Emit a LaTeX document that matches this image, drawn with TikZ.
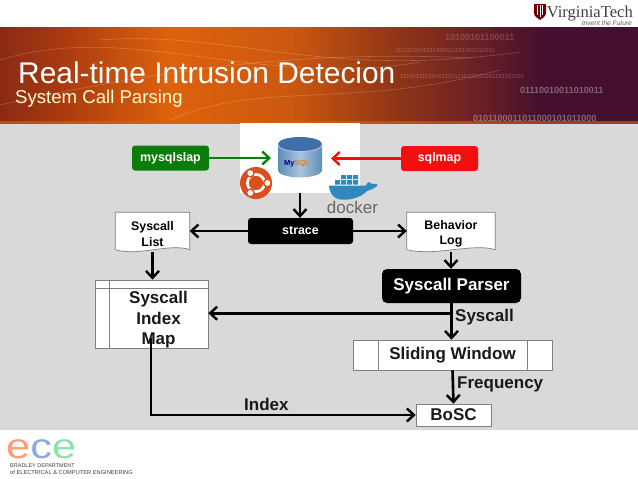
\documentclass[tikz,border=0pt]{standalone}
\usepackage{fontspec}
\setmainfont{Liberation Sans}
\newfontfamily\vtserif{Liberation Serif}
\usetikzlibrary{arrows.meta,calc}
\definecolor{slidegrey}{HTML}{D9D9D9}
\definecolor{mygreen}{HTML}{0A7D0A}
\definecolor{myred}{HTML}{F40F0F}
\definecolor{linegrey}{HTML}{7F7F7F}
\definecolor{whaleblue}{HTML}{2F88BE}
\definecolor{ubuorange}{HTML}{D9501E}
\definecolor{dbtopc}{HTML}{3F6FA8}
\definecolor{dbside}{HTML}{5F8DB8}
\definecolor{dblight}{HTML}{A9C4DC}
\definecolor{b0}{HTML}{8A2A14}
\definecolor{b1}{HTML}{A83A10}
\definecolor{b2}{HTML}{DE620C}
\definecolor{b3}{HTML}{CC5810}
\definecolor{b4}{HTML}{8E3416}
\definecolor{b5}{HTML}{6A1F25}
\definecolor{b6}{HTML}{45102E}
\pgfdeclarehorizontalshading{bannerH}{100bp}{
 color(0bp)=(b0); color(25bp)=(b0); color(29.7bp)=(b1); color(38.3bp)=(b2);
 color(47.7bp)=(b3); color(56.3bp)=(b4); color(62.6bp)=(b5); color(67.3bp)=(b6); color(100bp)=(b6)}
\tikzset{
 conn/.style={draw=black,line width=2.6pt,-{Straight Barb[length=7pt,width=13pt,line width=2.4pt]}},
 whitebox/.style={draw=linegrey,fill=white,line width=.7pt,inner sep=0pt},
 bigtxt/.style={font=\fontsize{17}{20.5}\selectfont\bfseries,text=black!90,align=center},
 midtxt/.style={font=\fontsize{12.4}{15.5}\selectfont\bfseries,align=center},
 pill/.style={rounded corners=3pt,inner sep=0pt,midtxt,text=white},
 lbl/.style={font=\fontsize{17}{20}\selectfont\bfseries,text=black!90,inner sep=0pt},
 digits/.style={font=\fontsize{9}{9}\selectfont\bfseries,text=white,opacity=.18,inner sep=0pt,anchor=west},
 docbox/.style={midtxt,text=black,minimum height=37pt,inner sep=0pt}
}
\begin{document}
\begin{tikzpicture}[x=1pt,y=-1pt]
\useasboundingbox (0,0) rectangle (638,479);
% page areas
\fill[white] (0,0) rectangle (638,479);
\fill[slidegrey] (0,123) rectangle (638,430);
\shade[shading=bannerH] (0,27) rectangle (638,123);
\fill[b2,opacity=.6] (0,121) rectangle (638,123.5);
% soft lines in the banner
\begin{scope}[white,opacity=.22,line width=.6pt]
\draw (0,60) .. controls (130,20) and (260,90) .. (420,62);
\draw (100,40) .. controls (230,30) and (320,80) .. (520,52);
\draw (0,105) .. controls (160,70) and (300,50) .. (470,58);
\draw (170,120) .. controls (260,80) and (350,110) .. (500,70);
\end{scope}
\node[digits] (d1) at (445,37) {10100101100011};
\node[digits] (d2) at (395,50) {\fontsize{6}{6}\selectfont 1111110100111000111101001011011};
\node[digits] (d3) at (400,76) {\fontsize{6}{6}\selectfont 111011110101011101110111111101101101101};
\node[digits,opacity=.35] (d4) at (520,90) {01110010011010011};
\node[digits,opacity=.35] (d5) at (473,118) {0101100011011000101011000};
% title
\node[anchor=base west,inner sep=0pt,text=white,font=\fontsize{29.9}{32}\selectfont] (title) at (18,83) {Real-time Intrusion Detecion};
\node[anchor=base west,inner sep=0pt,text=white!80!yellow,font=\fontsize{18.6}{20}\selectfont] (subtitle) at (15,103) {System Call Parsing};
% VT logo
\node[anchor=base east,inner sep=0pt,text=black!75,font=\vtserif\fontsize{16.6}{18}\selectfont] (vt) at (633,17) {VirginiaTech};
\node[anchor=base east,inner sep=0pt,text=black!65,font=\itshape\fontsize{6.6}{8}\selectfont] (vts) at (632,26) {Invent the Future};
\fill[red!45!black] (534,4) -- (546,4) -- (546,13) .. controls (546,17) and (542,18) .. (540,20) .. controls (538,18) and (534,17) .. (534,13) -- cycle;
\draw[white,line width=.7pt] (537.5,5) -- (537.5,15) (540,5) -- (540,17) (542.5,5) -- (542.5,15);
% ece logo
\node[anchor=base west,inner sep=0pt,font=\fontsize{35}{35}\selectfont] (ece) at (6,458) {\scalebox{1.24}[1]{\textcolor{orange!60!red!55!white}{e}\textcolor{cyan!45!blue!45!white}{c}\textcolor{green!50!teal!45!white}{e}}};
\node[anchor=base west,inner sep=0pt,text=black!75,font=\fontsize{5.5}{6}\selectfont] (ece1) at (10,467) {BRADLEY DEPARTMENT};
\node[anchor=base west,inner sep=0pt,text=black!75,font=\fontsize{5.7}{6}\selectfont] (ece2) at (10,474.5) {of ELECTRICAL \& COMPUTER ENGINEERING};
% white picture area
\fill[white] (240,123) rectangle (360,193);
% database
\node[minimum width=44pt,minimum height=40pt,inner sep=0pt] (db) at (300,157) {};
\shade[left color=dbside,right color=dbside,middle color=dblight]
 (278,144) -- (278,170) .. controls (278,175) and (290,177.5) .. (300,177.5) .. controls (310,177.5) and (322,175) .. (322,170) -- (322,144) -- cycle;
\fill[dbtopc] (300,144) ellipse[x radius=22,y radius=7];
\draw[white!75!blue,line width=.7pt] (278,144) .. controls (278,150) and (290,151.5) .. (300,151.5) .. controls (310,151.5) and (322,150) .. (322,144);
\node[inner sep=0pt,font=\fontsize{7.5}{8}\selectfont\bfseries] (mysql) at (297,164) {\textcolor{blue!50!black}{My}\textcolor{orange!70!dbside}{SQL}};
% ubuntu
\fill[ubuorange] (256,183) circle (16);
\draw[white,line width=2.6pt] (256,183) circle (8.6);
\foreach \a in {0,120,240}{
 \fill[ubuorange] (256,183) ++(\a:11) circle (4.2);
 \fill[white] (256,183) ++(\a:11.4) circle (2.9);
}
% docker
\fill[whaleblue] (329,185.5) -- (366,185.5) .. controls (367,182) and (370,181) .. (372,184) .. controls (374,183) and (376,184) .. (378,185) .. controls (374,189) and (370,190) .. (367,191) .. controls (360,199) and (345,201) .. (338,199) .. controls (332,197) and (329,191) .. (329,185.5) -- cycle;
\fill[whaleblue] (335,180) rectangle (340,184.5) (341,180) rectangle (346,184.5) (347,180) rectangle (352,184.5) (353,180) rectangle (358,184.5) (341,175) rectangle (346,179) (347,175) rectangle (352,179) (353,175) rectangle (358,179);
\node[inner sep=0pt,text=black!60,font=\fontsize{17}{17}\selectfont] (dockertxt) at (352.5,207) {docker};
% main nodes
\node[pill,fill=mygreen,minimum width=77pt,minimum height=25pt] (slap) at (170.5,158) {mysqlslap};
\node[pill,fill=myred,minimum width=77pt,minimum height=25pt] (smap) at (439.5,158.5) {sqlmap};
\node[pill,fill=black,minimum width=105pt,minimum height=26pt] (strace) at (300.5,231) {strace};
\coordinate (dbbottom) at (300,193);
\coordinate (dbl) at (271,158);
\coordinate (dbr) at (331,158.5);
% documents
\node[docbox,minimum width=74pt] (slist) at (152.5,231) {};
\fill[white,draw=linegrey,line width=.7pt] (slist.north west) -- (slist.north east) -- (slist.south east) .. controls ($(slist.south)+(18,-7)$) and ($(slist.south)+(-14,7)$) .. (slist.south west) -- cycle;
\node[midtxt,inner sep=0pt] at ([yshift=-3pt]slist.center) {Syscall\\List};
\node[docbox,minimum width=88pt] (blog) at (451,231) {};
\fill[white,draw=linegrey,line width=.7pt] (blog.north west) -- (blog.north east) -- (blog.south east) .. controls ($(blog.south)+(22,-7)$) and ($(blog.south)+(-16,7)$) .. (blog.south west) -- cycle;
\node[midtxt,inner sep=0pt] at ([yshift=-3pt]blog.center) {Behavior\\Log};
% index map
\node[whitebox,minimum width=113pt,minimum height=68pt,bigtxt] (map) at (151.5,314) {};
\draw[linegrey,line width=.7pt] (109,280) -- (109,348) (95,288) -- (208,288);
\node[bigtxt,anchor=north,inner sep=0pt] (maptxt) at (158.5,291) {Syscall\\Index\\Map};
% parser
\node[rounded corners=5pt,fill=black,text=white,minimum width=139pt,minimum height=34pt,inner sep=0pt,font=\fontsize{17}{20}\selectfont\bfseries] (parser) at (451.5,286) {Syscall Parser};
% sliding window
\node[whitebox,minimum width=199pt,minimum height=30pt,bigtxt] (slide) at (452.5,355) {Sliding Window};
\draw[linegrey,line width=.7pt] (378,340) -- (378,370) (527,340) -- (527,370);
% BoSC
\node[whitebox,minimum width=75pt,minimum height=22pt,bigtxt] (bosc) at (453.5,415) {BoSC};
% connectors
\draw[conn,draw=mygreen] (slap.east) -- (dbl);
\draw[conn,draw=myred] (smap.west) -- (dbr);
\draw[conn] (dbbottom) -- (strace.north -| dbbottom);
\draw[conn] (strace.west) -- (slist.east);
\draw[conn] (strace.east) -- (blog.west);
\draw[conn] ([yshift=-2pt]slist.south) -- (slist.south |- map.north);
\draw[conn] ([yshift=-2pt]blog.south) -- (parser.north -| blog.south);
\coordinate (ptap) at ($(parser.south)+(0,10)$);
\draw[conn] (parser.south) -- (parser.south |- slide.north);
\draw[conn] (ptap) -- (ptap -| map.east);
\draw[conn] (slide.south) -- (bosc.north);
\coordinate (mapout) at (151,338);
\draw[conn] (mapout) -- (mapout |- bosc.west) -- (bosc.west);
% labels
\node[lbl,anchor=base west] (l1) at (455,321) {Syscall};
\node[lbl,anchor=base west] (l2) at (457,388) {Frequency};
\node[lbl,anchor=base west] (l3) at (244,410) {Index};
\end{tikzpicture}
\end{document}
